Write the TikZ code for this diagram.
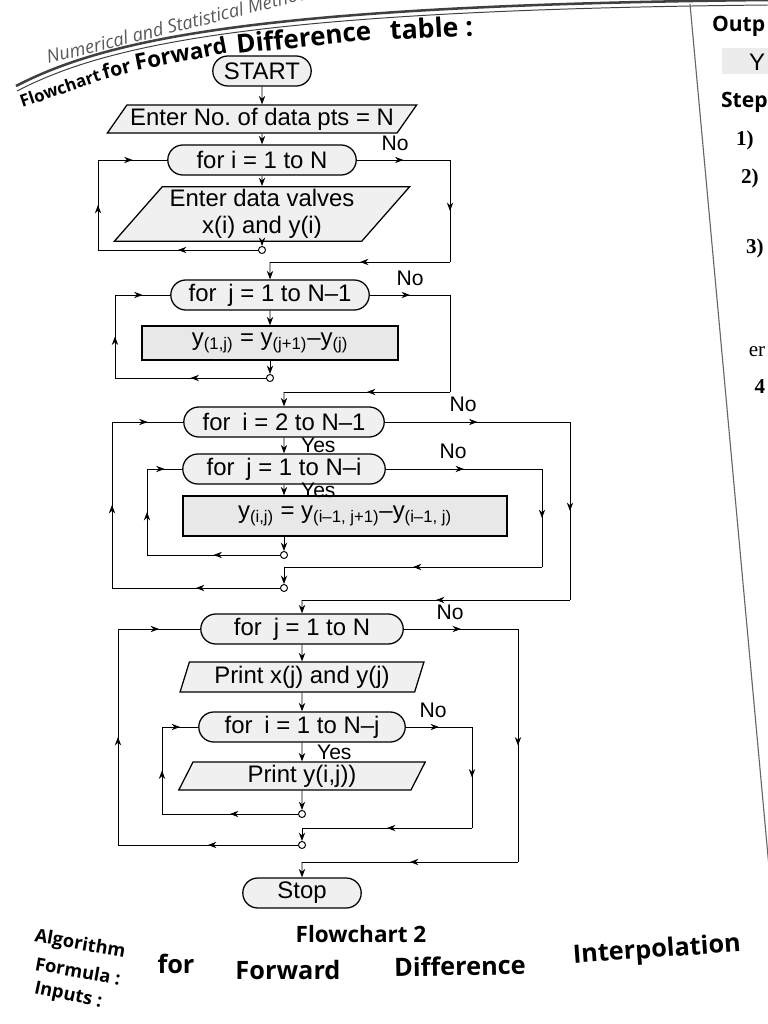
\documentclass[tikz,border=0pt]{standalone}
\usepackage{fontspec}
\setmainfont{Liberation Sans}
\newfontfamily\headfont{Open Sans}
\newfontfamily\numfont{Liberation Serif}
\usetikzlibrary{shapes.misc,shapes.geometric,arrows.meta,decorations.markings}

% exit of a loop on its "No" side: loop node, rail corner, target
\newcommand{\noexit}[4][midarr]{%
  \draw[midarr] (#2.east) -- (#2.east -| #3);
  \draw[#1] (#2.east -| #3) -- (#3);
  \draw[midarr] (#3) -- (#4 |- #3);
  \draw[->] (#4 |- #3) -- (#4);
}
% back edge of a loop: junction, left rail, loop node
\newcommand{\loopback}[3]{%
  \draw[midarr] (#1) -- (#1 -| #2);
  \draw[midarr] (#1 -| #2) -- (#2 |- #3.west);
  \draw[midarr] (#2 |- #3.west) -- (#3.west);
}

\begin{document}
\begin{tikzpicture}[x=0.025cm, y=-0.025cm, line width=0.6pt,
  >={Stealth[length=6pt,width=4.5pt]},
  every node/.style={font=\fontsize{17}{19}\selectfont},
  term/.style={draw, rounded rectangle, fill=gray!12, line width=0.9pt, minimum height=0.75cm, inner sep=2pt},
  iobox/.style={draw, trapezium, trapezium stretches=true, fill=gray!12, line width=0.9pt, minimum height=0.75cm, inner sep=2pt},
  procbox/.style={draw, rectangle, fill=gray!18, line width=0.9pt, minimum height=0.85cm},
  jn/.style={draw, circle, fill=white, inner sep=0pt, minimum size=5pt, line width=0.7pt},
  lbl/.style={font=\fontsize{15}{17}\selectfont},
  hd/.style={font=\headfont\bfseries\fontsize{15}{17}\selectfont},
  tw/.style={font=\headfont\bfseries\fontsize{#1}{20}\selectfont, anchor=base west, inner sep=0pt},
  sn/.style={font=\numfont\bfseries\fontsize{15}{17}\selectfont, anchor=west},
  bt/.style={font=\headfont\bfseries\fontsize{18}{20}\selectfont},
  midarr/.style={postaction={decorate, decoration={markings, mark=at position 0.5 with {\arrow{>}}}}}]
  \useasboundingbox (0,0) rectangle (768,1024);
  \clip (0,0) rectangle (768,1024);

  %%% page head
  \draw[line width=1.8pt, black!75] (16,86) .. controls (105,40) and (255,5) .. (768,0);
  \draw[line width=0.7pt, black!75] (17,91) .. controls (106,45) and (256,10) .. (768,5);
  \node[font=\headfont\itshape\fontsize{13}{15}\selectfont, text=black!65, rotate=14, anchor=base west, inner sep=0pt] (book) at (48,64) {Numerical and Statistical Methods (SPPU)};
  % the title follows the bend of the page
  \node[tw=12, rotate=19] (t1) at (22,108) {Flowchart};
  \node[tw=14, rotate=15] (t2) at (104,80) {for};
  \node[tw=16, rotate=11] (t3) at (136,71) {Forward};
  \node[tw=18.5, rotate=6] (t4) at (237,54) {Difference};
  \node[tw=19, rotate=3] (t5) at (390,40) {table :};

  %%% right column
  \draw[black!60, line width=0.8pt] (690,4) -- (772,900);
  \fill[gray!15] (722,48) rectangle (768,74);
  \node[hd, anchor=east, inner sep=1pt] (outp) at (767,26) {Outp};
  \node[anchor=east, inner sep=1pt] (yy) at (767,62) {Y};
  \node[hd, anchor=west] (step) at (716,102) {Step};
  \node[sn] (s1) at (731,140) {1)};
  \node[sn] (s2) at (736,178) {2)};
  \node[sn] (s3) at (741,248) {3)};
  \node[font=\numfont\fontsize{15}{17}\selectfont, anchor=east, inner sep=1pt] (s3b) at (767,352) {er};
  \node[sn, anchor=east, inner sep=1pt] (s4) at (767,387) {4};

  %%% reading the data
  \node[term, minimum width=2.6cm] (start) at (262,71) {START};
  \node[iobox, trapezium left angle=55, trapezium right angle=125, minimum width=7.75cm, minimum height=0.7cm] (npts) at (262,119) {Enter No.\ of data pts = N};
  \node[term, minimum width=4.85cm] (fori) at (262,160) {for i = 1 to N};
  \node[iobox, trapezium left angle=50, trapezium right angle=130, minimum width=7.4cm, minimum height=1.15cm, align=center] (xy) at (262,214) {Enter data valves\\x(i) and y(i)};
  \node[jn] (j1) at (262,250) {};

  %%% first differences
  \node[term, minimum width=5.1cm] (forj) at (270,295) {for\enspace j = 1 to N–1};
  \node[procbox, minimum width=6.4cm] (dy1) at (270,343) {y\textsubscript{(1,j)} = y\textsubscript{(j+1)}–y\textsubscript{(j)}};
  \node[jn] (j2) at (270,378) {};

  %%% higher differences
  \node[term, minimum width=5.15cm] (fori2) at (284,422) {for\enspace i = 2 to N–1};
  \node[term, minimum width=5.2cm] (forji) at (284,469) {for\enspace j = 1 to N–i};
  \node[procbox, minimum width=8.1cm, minimum height=1cm] (dyi) at (345,516) {y\textsubscript{(i,j)} = y\textsubscript{(i–1, j+1)}–y\textsubscript{(i–1, j)}};
  \node[jn] (j3) at (284,555) {};
  \node[jn] (j4) at (284,588) {};

  %%% printing the table
  \node[term, minimum width=5.2cm] (forj2) at (302,629) {for\enspace j = 1 to N};
  \node[iobox, trapezium left angle=75, trapezium right angle=105, minimum width=6.1cm] (prxy) at (302,677) {Print x(j) and y(j)};
  \node[term, minimum width=5.3cm] (fori3) at (302,727) {for\enspace i = 1 to N–j};
  \node[iobox, trapezium left angle=75, trapezium right angle=105, minimum width=6.2cm, minimum height=0.7cm] (pry) at (302,776) {Print y(i,j))};
  \node[jn] (j5) at (302,814) {};
  \node[jn] (j6) at (302,845) {};
  \node[term, minimum width=3.1cm] (stop) at (302,893) {Stop};

  %% rails
  \coordinate (L1) at (98,0);   \coordinate (R1) at (450,262);
  \coordinate (L2) at (115,0);  \coordinate (R2) at (450,392);
  \coordinate (L3) at (112,0);  \coordinate (R3) at (570,600);
  \coordinate (L4) at (147,0);  \coordinate (R4) at (542,567);
  \coordinate (L5) at (118,0);  \coordinate (R5) at (518,862);
  \coordinate (L6) at (162,0);  \coordinate (R6) at (472,828);

  \foreach \a/\b in {start/npts, npts/fori, fori/xy, xy/j1, forj/dy1, dy1/j2, fori2/forji, forj2/prxy, prxy/fori3, fori3/pry, pry/j5}
    \draw[->] (\a) -- (\b);
  \draw[->] (forji) -- (forji |- dyi.north);
  \draw[->] (j3 |- dyi.south) -- (j3);

  \loopback{j1}{L1}{fori}
  \loopback{j2}{L2}{forj}
  \loopback{j3}{L4}{forji}
  \loopback{j4}{L3}{fori2}
  \loopback{j5}{L6}{fori3}
  \loopback{j6}{L5}{forj2}

  \noexit{fori}{R1}{forj}
  \noexit[]{forj}{R2}{fori2}
  \noexit{forji}{R4}{j4}
  \noexit{fori2}{R3}{forj2}
  \noexit{fori3}{R6}{j6}
  \noexit{forj2}{R5}{stop}

  \node[lbl] (no1) at (395,143) {No};
  \node[lbl] (no2) at (410,278) {No};
  \node[lbl] (no3) at (463,404) {No};
  \node[lbl] (no4) at (453,451) {No};
  \node[lbl] (no5) at (450,612) {No};
  \node[lbl] (no6) at (433,710) {No};
  \node[lbl, anchor=west] (yes1) at (296,445) {Yes};
  \node[lbl, anchor=west] (yes2) at (296,490) {Yes};
  \node[lbl, anchor=west] (yes3) at (312,752) {Yes};

  %%% page foot
  \node[font=\headfont\bfseries\fontsize{16}{18}\selectfont] (cap) at (361,934) {Flowchart 2};
  \node[font=\headfont\bfseries\fontsize{13}{15}\selectfont, rotate=-10] (alg) at (80,945) {Algorithm};
  \node[font=\headfont\bfseries\fontsize{13}{15}\selectfont, rotate=-10] (frm) at (78,971) {Formula :};
  \node[font=\headfont\bfseries\fontsize{13}{15}\selectfont, rotate=-12] (inp) at (68,996) {Inputs :};
  \node[bt] (w1) at (176,964) {for};
  \node[bt] (w2) at (288,970) {Forward};
  \node[bt, rotate=1] (w3) at (460,966) {Difference};
  \node[bt, rotate=4] (w4) at (657,951) {Interpolation};
\end{tikzpicture}
\end{document}
